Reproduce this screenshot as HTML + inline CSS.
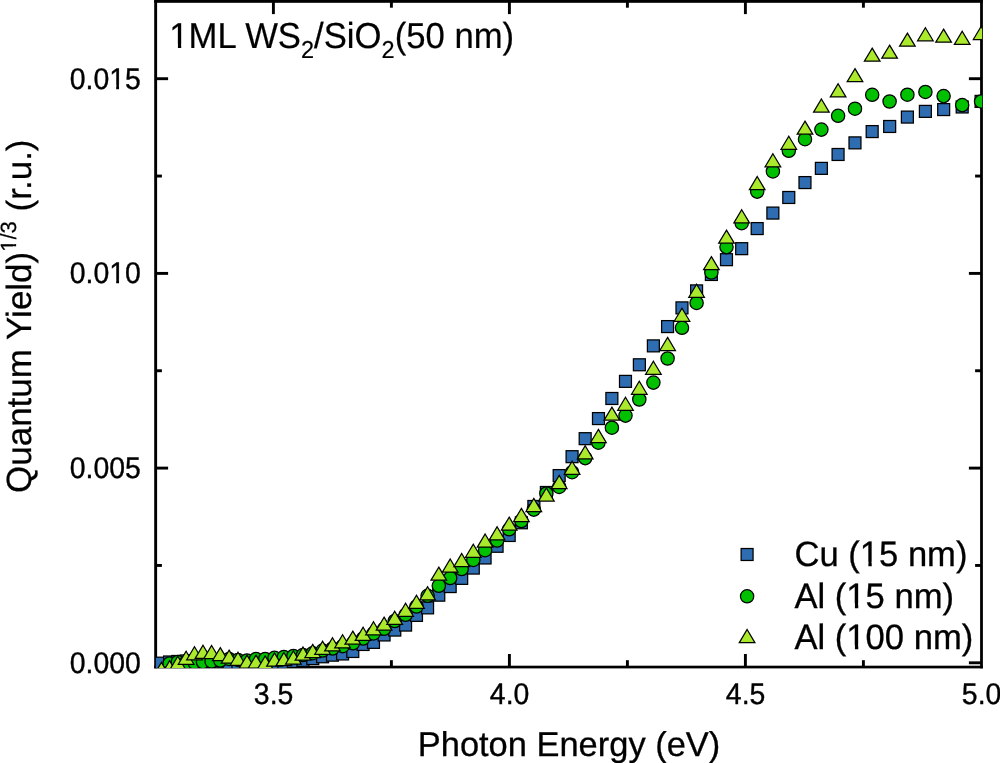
<!DOCTYPE html>
<html><head><meta charset="utf-8"><style>
html,body{margin:0;padding:0;background:#fff;}
body{width:1000px;height:763px;overflow:hidden;position:relative;}
svg{position:absolute;left:0;top:0;will-change:transform;}
text{font-family:"Liberation Sans",sans-serif;fill:#000;text-rendering:geometricPrecision;}
</style></head><body>
<svg width="1000" height="763" viewBox="0 0 1000 763">
<defs><clipPath id="pc"><rect x="155.7" y="0" width="826.4" height="667.9"/></clipPath></defs>

<g fill="#000">
<rect x="271.95" y="654.0" width="2.9" height="13"/>
<rect x="271.95" y="0" width="2.9" height="14.1"/>
<rect x="389.95" y="660.2" width="2.9" height="6.8"/>
<rect x="389.95" y="0" width="2.9" height="7.7"/>
<rect x="507.95" y="654.0" width="2.9" height="13"/>
<rect x="507.95" y="0" width="2.9" height="14.1"/>
<rect x="625.95" y="660.2" width="2.9" height="6.8"/>
<rect x="625.95" y="0" width="2.9" height="7.7"/>
<rect x="743.95" y="654.0" width="2.9" height="13"/>
<rect x="743.95" y="0" width="2.9" height="14.1"/>
<rect x="861.95" y="660.2" width="2.9" height="6.8"/>
<rect x="861.95" y="0" width="2.9" height="7.7"/>
<rect x="155.5" y="661.35" width="12.6" height="2.9"/>
<rect x="968.9" y="661.35" width="12.6" height="2.9"/>
<rect x="155.5" y="564.00" width="6.4" height="2.9"/>
<rect x="975.1" y="564.00" width="6.4" height="2.9"/>
<rect x="155.5" y="466.65" width="12.6" height="2.9"/>
<rect x="968.9" y="466.65" width="12.6" height="2.9"/>
<rect x="155.5" y="369.30" width="6.4" height="2.9"/>
<rect x="975.1" y="369.30" width="6.4" height="2.9"/>
<rect x="155.5" y="271.95" width="12.6" height="2.9"/>
<rect x="968.9" y="271.95" width="12.6" height="2.9"/>
<rect x="155.5" y="174.60" width="6.4" height="2.9"/>
<rect x="975.1" y="174.60" width="6.4" height="2.9"/>
<rect x="155.5" y="77.25" width="12.6" height="2.9"/>
<rect x="968.9" y="77.25" width="12.6" height="2.9"/>
</g>
<g fill="#000"><rect x="154.2" y="0" width="2.9" height="668.3"/><rect x="980.1" y="0" width="2.8" height="668.3"/><rect x="154.2" y="0" width="828.7" height="2.8"/><rect x="154.2" y="665.7" width="828.7" height="2.7"/></g>
<g clip-path="url(#pc)" stroke="#000" stroke-width="1.25" stroke-linejoin="miter">
<g fill="#2e6db1">
<rect x="155.4" y="657.2" width="11.95" height="11.95"/>
<rect x="163.6" y="656.0" width="11.95" height="11.95"/>
<rect x="171.8" y="655.5" width="11.95" height="11.95"/>
<rect x="180.1" y="655.0" width="11.95" height="11.95"/>
<rect x="188.6" y="655.0" width="11.95" height="11.95"/>
<rect x="197.1" y="655.0" width="11.95" height="11.95"/>
<rect x="205.7" y="655.5" width="11.95" height="11.95"/>
<rect x="214.3" y="656.0" width="11.95" height="11.95"/>
<rect x="223.1" y="657.0" width="11.95" height="11.95"/>
<rect x="232.0" y="657.5" width="11.95" height="11.95"/>
<rect x="241.0" y="658.0" width="11.95" height="11.95"/>
<rect x="250.1" y="658.0" width="11.95" height="11.95"/>
<rect x="259.3" y="658.0" width="11.95" height="11.95"/>
<rect x="268.5" y="657.0" width="11.95" height="11.95"/>
<rect x="277.9" y="656.5" width="11.95" height="11.95"/>
<rect x="287.4" y="655.5" width="11.95" height="11.95"/>
<rect x="297.0" y="654.5" width="11.95" height="11.95"/>
<rect x="306.8" y="652.6" width="11.95" height="11.95"/>
<rect x="316.6" y="650.8" width="11.95" height="11.95"/>
<rect x="326.5" y="649.2" width="11.95" height="11.95"/>
<rect x="336.6" y="648.0" width="11.95" height="11.95"/>
<rect x="346.8" y="645.5" width="11.95" height="11.95"/>
<rect x="357.1" y="638.5" width="11.95" height="11.95"/>
<rect x="367.5" y="636.4" width="11.95" height="11.95"/>
<rect x="378.1" y="629.0" width="11.95" height="11.95"/>
<rect x="388.8" y="624.1" width="11.95" height="11.95"/>
<rect x="399.6" y="619.1" width="11.95" height="11.95"/>
<rect x="410.5" y="609.4" width="11.95" height="11.95"/>
<rect x="421.6" y="601.9" width="11.95" height="11.95"/>
<rect x="432.8" y="589.2" width="11.95" height="11.95"/>
<rect x="444.2" y="580.6" width="11.95" height="11.95"/>
<rect x="455.7" y="572.4" width="11.95" height="11.95"/>
<rect x="467.3" y="562.1" width="11.95" height="11.95"/>
<rect x="479.1" y="552.0" width="11.95" height="11.95"/>
<rect x="491.1" y="540.3" width="11.95" height="11.95"/>
<rect x="503.2" y="529.5" width="11.95" height="11.95"/>
<rect x="515.4" y="516.8" width="11.95" height="11.95"/>
<rect x="527.9" y="500.5" width="11.95" height="11.95"/>
<rect x="540.4" y="486.5" width="11.95" height="11.95"/>
<rect x="553.2" y="469.6" width="11.95" height="11.95"/>
<rect x="566.1" y="450.7" width="11.95" height="11.95"/>
<rect x="579.2" y="432.7" width="11.95" height="11.95"/>
<rect x="592.5" y="412.6" width="11.95" height="11.95"/>
<rect x="605.9" y="392.5" width="11.95" height="11.95"/>
<rect x="619.5" y="375.4" width="11.95" height="11.95"/>
<rect x="633.4" y="358.8" width="11.95" height="11.95"/>
<rect x="647.4" y="339.9" width="11.95" height="11.95"/>
<rect x="661.6" y="320.6" width="11.95" height="11.95"/>
<rect x="676.0" y="301.9" width="11.95" height="11.95"/>
<rect x="690.6" y="284.9" width="11.95" height="11.95"/>
<rect x="705.4" y="268.5" width="11.95" height="11.95"/>
<rect x="720.5" y="253.7" width="11.95" height="11.95"/>
<rect x="735.7" y="242.7" width="11.95" height="11.95"/>
<rect x="751.2" y="222.6" width="11.95" height="11.95"/>
<rect x="766.9" y="207.1" width="11.95" height="11.95"/>
<rect x="782.8" y="191.5" width="11.95" height="11.95"/>
<rect x="799.0" y="176.6" width="11.95" height="11.95"/>
<rect x="815.4" y="162.4" width="11.95" height="11.95"/>
<rect x="832.1" y="148.5" width="11.95" height="11.95"/>
<rect x="849.0" y="136.9" width="11.95" height="11.95"/>
<rect x="866.2" y="125.6" width="11.95" height="11.95"/>
<rect x="883.7" y="120.5" width="11.95" height="11.95"/>
<rect x="901.4" y="111.1" width="11.95" height="11.95"/>
<rect x="919.4" y="105.4" width="11.95" height="11.95"/>
<rect x="937.7" y="103.6" width="11.95" height="11.95"/>
<rect x="956.2" y="101.0" width="11.95" height="11.95"/>
<rect x="975.1" y="95.4" width="11.95" height="11.95"/>
</g><g fill="#00c000">
<circle cx="169.6" cy="663.4" r="6.65"/>
<circle cx="177.8" cy="661.9" r="6.65"/>
<circle cx="186.1" cy="662.5" r="6.65"/>
<circle cx="194.5" cy="662.5" r="6.65"/>
<circle cx="203.0" cy="662.0" r="6.65"/>
<circle cx="211.6" cy="661.5" r="6.65"/>
<circle cx="220.3" cy="660.5" r="6.65"/>
<circle cx="229.1" cy="658.9" r="6.65"/>
<circle cx="238.0" cy="659.9" r="6.65"/>
<circle cx="247.0" cy="660.4" r="6.65"/>
<circle cx="256.0" cy="658.9" r="6.65"/>
<circle cx="265.2" cy="658.9" r="6.65"/>
<circle cx="274.5" cy="657.8" r="6.65"/>
<circle cx="283.9" cy="657.0" r="6.65"/>
<circle cx="293.4" cy="656.0" r="6.65"/>
<circle cx="303.0" cy="655.0" r="6.65"/>
<circle cx="312.7" cy="653.2" r="6.65"/>
<circle cx="322.6" cy="650.6" r="6.65"/>
<circle cx="332.5" cy="648.5" r="6.65"/>
<circle cx="342.6" cy="646.2" r="6.65"/>
<circle cx="352.8" cy="643.3" r="6.65"/>
<circle cx="363.1" cy="638.5" r="6.65"/>
<circle cx="373.5" cy="633.4" r="6.65"/>
<circle cx="384.1" cy="628.8" r="6.65"/>
<circle cx="394.7" cy="621.0" r="6.65"/>
<circle cx="405.6" cy="614.8" r="6.65"/>
<circle cx="416.5" cy="606.5" r="6.65"/>
<circle cx="427.6" cy="595.8" r="6.65"/>
<circle cx="438.8" cy="585.8" r="6.65"/>
<circle cx="450.2" cy="578.0" r="6.65"/>
<circle cx="461.7" cy="569.0" r="6.65"/>
<circle cx="473.3" cy="559.9" r="6.65"/>
<circle cx="485.1" cy="550.2" r="6.65"/>
<circle cx="497.1" cy="540.5" r="6.65"/>
<circle cx="509.2" cy="529.3" r="6.65"/>
<circle cx="521.4" cy="521.0" r="6.65"/>
<circle cx="533.8" cy="509.6" r="6.65"/>
<circle cx="546.4" cy="493.5" r="6.65"/>
<circle cx="559.2" cy="486.9" r="6.65"/>
<circle cx="572.1" cy="472.2" r="6.65"/>
<circle cx="585.2" cy="458.1" r="6.65"/>
<circle cx="598.4" cy="442.7" r="6.65"/>
<circle cx="611.9" cy="427.7" r="6.65"/>
<circle cx="625.5" cy="415.6" r="6.65"/>
<circle cx="639.3" cy="399.5" r="6.65"/>
<circle cx="653.4" cy="382.6" r="6.65"/>
<circle cx="667.6" cy="358.5" r="6.65"/>
<circle cx="682.0" cy="327.8" r="6.65"/>
<circle cx="696.6" cy="302.9" r="6.65"/>
<circle cx="711.4" cy="272.5" r="6.65"/>
<circle cx="726.5" cy="247.1" r="6.65"/>
<circle cx="741.7" cy="223.2" r="6.65"/>
<circle cx="757.2" cy="191.6" r="6.65"/>
<circle cx="772.9" cy="171.4" r="6.65"/>
<circle cx="788.8" cy="150.8" r="6.65"/>
<circle cx="805.0" cy="139.2" r="6.65"/>
<circle cx="821.4" cy="129.6" r="6.65"/>
<circle cx="838.1" cy="115.8" r="6.65"/>
<circle cx="855.0" cy="108.7" r="6.65"/>
<circle cx="872.2" cy="94.8" r="6.65"/>
<circle cx="889.6" cy="101.5" r="6.65"/>
<circle cx="907.4" cy="94.7" r="6.65"/>
<circle cx="925.4" cy="91.9" r="6.65"/>
<circle cx="943.6" cy="96.1" r="6.65"/>
<circle cx="962.2" cy="105.1" r="6.65"/>
<circle cx="981.1" cy="101.4" r="6.65"/>
</g><g fill="#abe92d">
<path d="M161.4 662.4L169.2 675.5L153.6 675.5Z"/>
<path d="M169.6 660.8L177.4 673.9L161.8 673.9Z"/>
<path d="M177.8 656.3L185.6 669.4L170.0 669.4Z"/>
<path d="M186.1 651.2L193.9 664.3L178.3 664.3Z"/>
<path d="M194.5 646.7L202.3 659.8L186.7 659.8Z"/>
<path d="M203.0 645.3L210.8 658.4L195.2 658.4Z"/>
<path d="M211.6 645.5L219.4 658.6L203.8 658.6Z"/>
<path d="M220.3 647.6L228.1 660.7L212.5 660.7Z"/>
<path d="M229.1 650.1L236.9 663.2L221.3 663.2Z"/>
<path d="M238.0 652.2L245.8 665.3L230.2 665.3Z"/>
<path d="M247.0 655.1L254.8 668.2L239.2 668.2Z"/>
<path d="M256.0 655.1L263.8 668.2L248.2 668.2Z"/>
<path d="M265.2 656.0L273.0 669.1L257.4 669.1Z"/>
<path d="M274.5 653.0L282.3 666.1L266.7 666.1Z"/>
<path d="M283.9 652.5L291.7 665.6L276.1 665.6Z"/>
<path d="M293.4 650.9L301.2 664.0L285.6 664.0Z"/>
<path d="M303.0 647.0L310.8 660.1L295.2 660.1Z"/>
<path d="M312.7 644.4L320.5 657.5L304.9 657.5Z"/>
<path d="M322.6 641.2L330.4 654.3L314.8 654.3Z"/>
<path d="M332.5 637.8L340.3 650.9L324.7 650.9Z"/>
<path d="M342.6 634.7L350.4 647.8L334.8 647.8Z"/>
<path d="M352.8 631.1L360.6 644.2L345.0 644.2Z"/>
<path d="M363.1 627.3L370.9 640.4L355.3 640.4Z"/>
<path d="M373.5 621.8L381.3 634.9L365.7 634.9Z"/>
<path d="M384.1 617.1L391.9 630.2L376.3 630.2Z"/>
<path d="M394.7 611.3L402.5 624.4L386.9 624.4Z"/>
<path d="M405.6 603.2L413.4 616.3L397.8 616.3Z"/>
<path d="M416.5 595.3L424.3 608.4L408.7 608.4Z"/>
<path d="M427.6 586.8L435.4 599.9L419.8 599.9Z"/>
<path d="M438.8 567.1L446.6 580.2L431.0 580.2Z"/>
<path d="M450.2 559.0L458.0 572.1L442.4 572.1Z"/>
<path d="M461.7 553.5L469.5 566.6L453.9 566.6Z"/>
<path d="M473.3 544.2L481.1 557.3L465.5 557.3Z"/>
<path d="M485.1 534.0L492.9 547.1L477.3 547.1Z"/>
<path d="M497.1 526.8L504.9 539.9L489.3 539.9Z"/>
<path d="M509.2 517.1L517.0 530.2L501.4 530.2Z"/>
<path d="M521.4 508.4L529.2 521.5L513.6 521.5Z"/>
<path d="M533.8 498.4L541.6 511.5L526.0 511.5Z"/>
<path d="M546.4 488.0L554.2 501.1L538.6 501.1Z"/>
<path d="M559.2 475.4L567.0 488.5L551.4 488.5Z"/>
<path d="M572.1 461.2L579.9 474.3L564.3 474.3Z"/>
<path d="M585.2 445.8L593.0 458.9L577.4 458.9Z"/>
<path d="M598.4 429.4L606.2 442.5L590.6 442.5Z"/>
<path d="M611.9 407.1L619.7 420.2L604.1 420.2Z"/>
<path d="M625.5 397.2L633.3 410.3L617.7 410.3Z"/>
<path d="M639.3 381.2L647.1 394.3L631.5 394.3Z"/>
<path d="M653.4 361.2L661.2 374.3L645.6 374.3Z"/>
<path d="M667.6 337.4L675.4 350.5L659.8 350.5Z"/>
<path d="M682.0 308.2L689.8 321.3L674.2 321.3Z"/>
<path d="M696.6 284.2L704.4 297.3L688.8 297.3Z"/>
<path d="M711.4 256.6L719.2 269.7L703.6 269.7Z"/>
<path d="M726.5 230.1L734.3 243.2L718.7 243.2Z"/>
<path d="M741.7 209.8L749.5 222.9L733.9 222.9Z"/>
<path d="M757.2 176.5L765.0 189.6L749.4 189.6Z"/>
<path d="M772.9 153.7L780.7 166.8L765.1 166.8Z"/>
<path d="M788.8 136.2L796.6 149.3L781.0 149.3Z"/>
<path d="M805.0 121.1L812.8 134.2L797.2 134.2Z"/>
<path d="M821.4 99.0L829.2 112.1L813.6 112.1Z"/>
<path d="M838.1 83.8L845.9 96.9L830.3 96.9Z"/>
<path d="M855.0 68.6L862.8 81.7L847.2 81.7Z"/>
<path d="M872.2 48.1L880.0 61.2L864.4 61.2Z"/>
<path d="M889.6 45.1L897.4 58.2L881.8 58.2Z"/>
<path d="M907.4 33.1L915.2 46.2L899.6 46.2Z"/>
<path d="M925.4 27.7L933.2 40.8L917.6 40.8Z"/>
<path d="M943.6 29.1L951.4 42.2L935.8 42.2Z"/>
<path d="M962.2 31.3L970.0 44.4L954.4 44.4Z"/>
<path d="M981.1 26.4L988.9 39.5L973.3 39.5Z"/>
</g></g>
<text transform="translate(273.60,703.90) scale(1,1.05)" font-size="28.4" text-anchor="middle" stroke="#000" stroke-width="0.35">3.5</text>
<text transform="translate(509.60,703.90) scale(1,1.05)" font-size="28.4" text-anchor="middle" stroke="#000" stroke-width="0.35">4.0</text>
<text transform="translate(745.60,703.90) scale(1,1.05)" font-size="28.4" text-anchor="middle" stroke="#000" stroke-width="0.35">4.5</text>
<text transform="translate(981.60,703.90) scale(1,1.05)" font-size="28.4" text-anchor="middle" stroke="#000" stroke-width="0.35">5.0</text>
<text transform="translate(140.80,672.70) scale(1,1.05)" font-size="28.4" text-anchor="end" stroke="#000" stroke-width="0.35">0.000</text>
<text transform="translate(140.80,478.00) scale(1,1.05)" font-size="28.4" text-anchor="end" stroke="#000" stroke-width="0.35">0.005</text>
<text transform="translate(140.80,283.30) scale(1,1.05)" font-size="28.4" text-anchor="end" stroke="#000" stroke-width="0.35">0.010</text>
<text transform="translate(140.80,88.60) scale(1,1.05)" font-size="28.4" text-anchor="end" stroke="#000" stroke-width="0.35">0.015</text>
<text transform="translate(569.00,755.60) scale(1,1.0)" font-size="34.45" text-anchor="middle" stroke="#000" stroke-width="0.3">Photon Energy (eV)</text>
<text transform="translate(30.7,493) rotate(-90)" font-size="35" stroke="#000" stroke-width="0.25">Quantum Yield)<tspan font-size="22" dy="-14.7">1/3</tspan><tspan dy="14.7"> (r.u.)</tspan></text>
<text transform="translate(169.30,48.30) scale(1,1.04)" font-size="34.7" stroke="#000" stroke-width="0.2">1ML WS<tspan font-size="23.5" dy="9.0">2</tspan><tspan dy="-9.0">/SiO</tspan><tspan font-size="23.5" dy="9.0">2</tspan><tspan dy="-9.0">(50 nm)</tspan></text>
<rect x="741.12" y="548.52" width="11.95" height="11.95" fill="#2e6db1" stroke="#000" stroke-width="1.25"/>
<circle cx="747.1" cy="596.3" r="6.65" fill="#00c000" stroke="#000" stroke-width="1.25"/>
<path d="M747.1 629.5L754.9 642.6L739.3 642.6Z" fill="#abe92d" stroke="#000" stroke-width="1.25"/>
<text transform="translate(794.50,565.80) scale(1,1.02)" font-size="34.6" stroke="#000" stroke-width="0.3">Cu (15 nm)</text>
<text transform="translate(794.50,607.50) scale(1,1.02)" font-size="34.6" stroke="#000" stroke-width="0.3">Al (15 nm)</text>
<text transform="translate(794.50,649.20) scale(1,1.02)" font-size="34.6" stroke="#000" stroke-width="0.3">Al (100 nm)</text>
<g transform="translate(140.80,283.30) scale(1,1.05)" fill="#fff"><rect x="-30.53" y="-3.50" width="5.91" height="5.20"/><rect x="-21.76" y="-3.50" width="5.69" height="5.20"/></g>
<g transform="translate(140.80,88.60) scale(1,1.05)" fill="#fff"><rect x="-30.53" y="-3.50" width="5.91" height="5.20"/><rect x="-21.76" y="-3.50" width="5.69" height="5.20"/></g>
<g transform="translate(30.7,493) rotate(-90)" fill="#fff"><rect x="241.83" y="-17.67" width="4.84" height="4.67"/><rect x="248.86" y="-17.67" width="4.66" height="4.67"/></g>
<g transform="translate(169.30,48.30) scale(1,1.04)" fill="#fff"><rect x="1.54" y="-3.89" width="7.08" height="5.59"/><rect x="11.89" y="-3.89" width="6.81" height="5.59"/></g>
<g transform="translate(794.50,565.80) scale(1,1.02)" fill="#fff"><rect x="66.85" y="-3.94" width="7.02" height="5.64"/><rect x="77.23" y="-3.94" width="6.75" height="5.64"/></g>
<g transform="translate(794.50,607.50) scale(1,1.02)" fill="#fff"><rect x="53.40" y="-3.94" width="7.02" height="5.64"/><rect x="63.77" y="-3.94" width="6.75" height="5.64"/></g>
<g transform="translate(794.50,649.20) scale(1,1.02)" fill="#fff"><rect x="53.40" y="-3.94" width="7.02" height="5.64"/><rect x="63.77" y="-3.94" width="6.75" height="5.64"/></g>
</svg></body></html>
